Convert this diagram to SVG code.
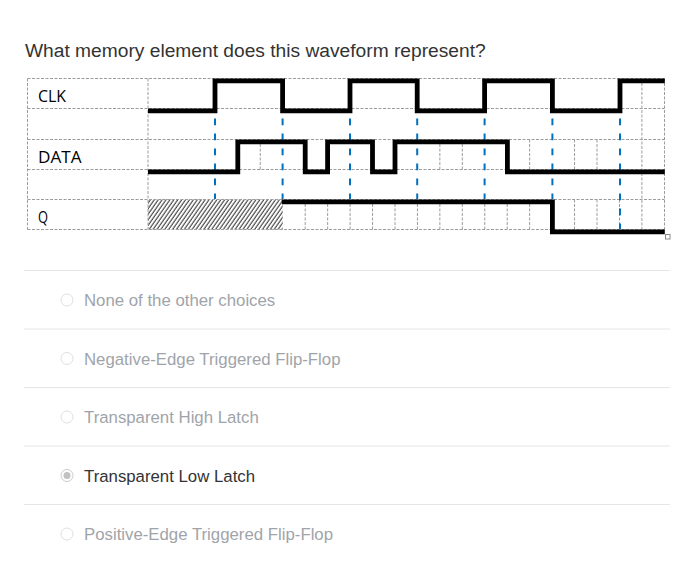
<svg xmlns="http://www.w3.org/2000/svg" width="694" height="586" viewBox="0 0 694 586">
<defs>
<pattern id="hatch" patternUnits="userSpaceOnUse" width="3.2" height="10" patternTransform="rotate(35)">
<rect width="3.2" height="10" fill="#ffffff"/>
<line x1="1" y1="0" x2="1" y2="10" stroke="#444444" stroke-width="1.15"/>
</pattern>
</defs>
<style>
.title{font-family:"Liberation Sans",Arial,sans-serif;font-size:19.2px;fill:#333333}
.lbl{font-family:"Open Sans","Noto Sans",sans-serif;font-size:16.5px;fill:#000000}
.opt{font-family:"Liberation Sans",Arial,sans-serif;font-size:16.8px;fill:#9fa4aa}
.sel{fill:#333333}
.grid{stroke:#9c9c9c;stroke-width:1;stroke-dasharray:3 1.5;fill:none}
.wave{stroke:#000000;stroke-width:4.8;fill:none;stroke-linejoin:miter;stroke-linecap:butt}
.mark{stroke:#0070c0;stroke-width:2;stroke-dasharray:6.7 8.3;fill:none}
.sep{stroke:#e6e6e6;stroke-width:1}
.radio{fill:#ffffff;stroke:#e0e0e0;stroke-width:1}
</style>
<rect width="694" height="586" fill="#ffffff"/>
<text class="title" x="25" y="56.5">What memory element does this waveform represent?</text>

<g id="grid">
<rect x="148" y="199.5" width="134.7" height="30" fill="url(#hatch)"/>
<path class="grid" d="M27.5 78.5H664.5M27.5 108.5H664.5M27.5 139.5H664.5M27.5 169.5H664.5M27.5 199.5H664.5M27.5 229.5H664.5"/>
<path class="grid" d="M27.5 78.5V229.5M148 78.5V229.5M641.9 78.5V229.5M664.5 78.5V229.5"/>
<path class="grid" d="M260.25 139.5V169.5M439.85 139.5V169.5M462.3 139.5V169.5M529.65 139.5V169.5M574.55 139.5V169.5M597 139.5V169.5"/>
<path class="grid" d="M305.2 199.5V229.5M327.65 199.5V229.5M350.1 199.5V229.5M372.55 199.5V229.5M395 199.5V229.5M417.45 199.5V229.5M439.85 199.5V229.5M462.3 199.5V229.5M484.75 199.5V229.5M507.2 199.5V229.5M529.65 199.5V229.5M574.55 199.5V229.5M597 199.5V229.5M619.5 199.5V229.5"/>
<rect x="665.5" y="234.5" width="4.5" height="4.5" fill="#ffffff" stroke="#8a8a8a" stroke-width="1"/>
</g>

<g id="clk-label"><text class="lbl" x="38" y="102" textLength="28" lengthAdjust="spacingAndGlyphs">CLK</text></g>
<g id="data-label"><text class="lbl" x="38" y="163.3" textLength="43.5" lengthAdjust="spacingAndGlyphs">DATA</text></g>
<g id="q-label"><text class="lbl" x="38" y="222.7" textLength="10" lengthAdjust="spacingAndGlyphs">Q</text></g>

<g id="markers">
<path class="mark" d="M215 118.5V199M282.6 118.5V199M350 118.5V199M417.2 118.5V199M484.6 118.5V199M552.4 118.5V199M620 118.5V229"/>
</g>

<g id="clk-wave"><path class="wave" d="M148 110.9H215V80.9H282.6V110.9H350V80.9H417.2V110.9H484.6V80.9H552.4V110.9H620V80.9H664.8"/></g>
<g id="data-wave"><path class="wave" d="M148 171.9H237.8V141.9H305.2V171.9H327.6V141.9H372.5V171.9H395V141.9H507.4V171.9H664.8"/></g>
<g id="q-wave"><path class="wave" d="M281.8 201.9H552.4V231.9H664.8"/></g>

<g id="options">
<line class="sep" x1="24" y1="270.5" x2="670" y2="270.5"/>
<line class="sep" x1="24" y1="329" x2="670" y2="329"/>
<line class="sep" x1="24" y1="387.5" x2="670" y2="387.5"/>
<line class="sep" x1="24" y1="446" x2="670" y2="446"/>
<line class="sep" x1="24" y1="504.5" x2="670" y2="504.5"/>
<g id="opt1"><circle class="radio" cx="67" cy="300" r="6"/><text class="opt" x="84" y="306">None of the other choices</text></g>
<g id="opt2"><circle class="radio" cx="67" cy="358.5" r="6"/><text class="opt" x="84" y="364.5">Negative-Edge Triggered Flip-Flop</text></g>
<g id="opt3"><circle class="radio" cx="67" cy="417" r="6"/><text class="opt" x="84" y="423">Transparent High Latch</text></g>
<g id="opt4"><circle cx="67" cy="475.5" r="6" fill="#ffffff" stroke="#cccccc" stroke-width="1"/><circle cx="67" cy="475.5" r="3.5" fill="#c2c2c2"/><text class="opt sel" x="84" y="481.7">Transparent Low Latch</text></g>
<g id="opt5"><circle class="radio" cx="67" cy="534" r="6"/><text class="opt" x="84" y="540">Positive-Edge Triggered Flip-Flop</text></g>
</g>
</svg>
